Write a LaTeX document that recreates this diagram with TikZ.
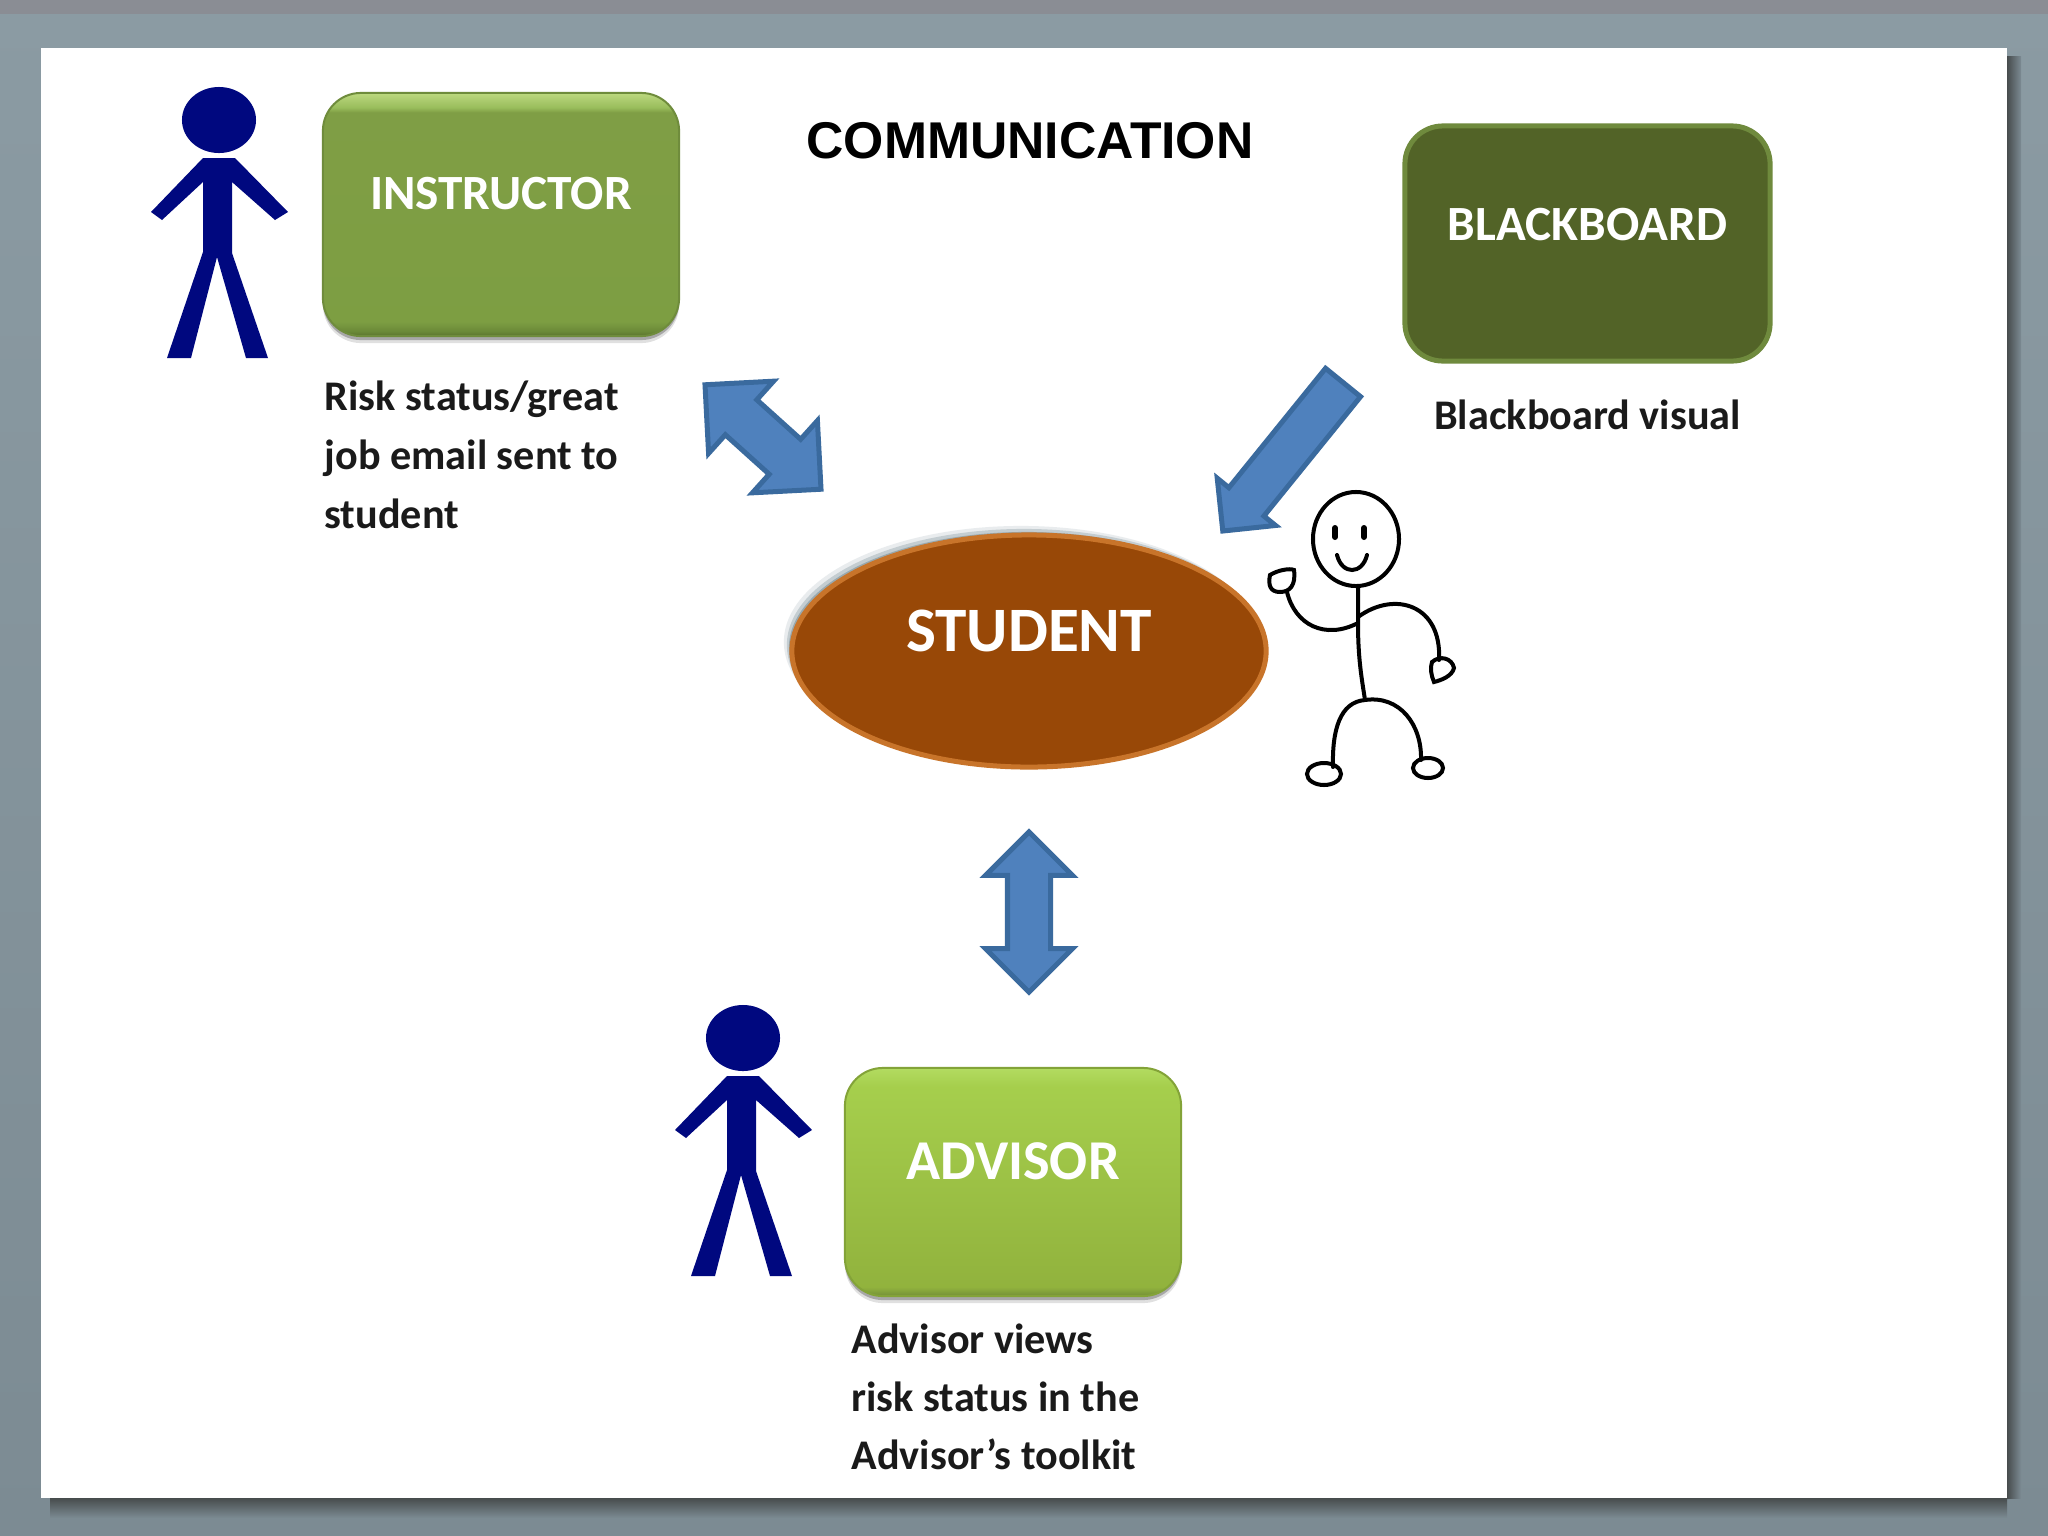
\documentclass[tikz,border=0pt]{standalone}
\usepackage{fontspec}
\setmainfont{Carlito}
\newfontfamily\titlefont{Liberation Sans}
\usetikzlibrary{positioning, shapes.geometric, shapes.arrows, shadows}

\definecolor{slidetop}{HTML}{8B9BA3}
\definecolor{slidebottom}{HTML}{7C8B93}
\definecolor{slideband}{HTML}{8A8D94}
\definecolor{slideedge}{HTML}{474C4D}
\definecolor{personblue}{HTML}{00087F}
\definecolor{arrowfill}{HTML}{4F81BD}
\definecolor{arrowline}{HTML}{3A6A9E}
\definecolor{textdark}{HTML}{1A1A1A}
\definecolor{studentfill}{HTML}{984807}
\definecolor{studentline}{HTML}{C8742A}
\definecolor{studentglow}{HTML}{70868F}
\definecolor{instructorline}{HTML}{6F8C3C}
\definecolor{blackboardfill}{HTML}{526327}
\definecolor{blackboardline}{HTML}{6F8A3D}
\definecolor{advisorline}{HTML}{83A338}

\pgfdeclareverticalshading{instructorshade}{100bp}{rgb(0bp)=(0.35,0.45,0.18); rgb(25bp)=(0.35,0.45,0.18); rgb(26bp)=(0.42,0.54,0.22); rgb(28bp)=(0.49,0.62,0.26); rgb(71bp)=(0.50,0.62,0.27); rgb(72bp)=(0.60,0.74,0.36); rgb(75bp)=(0.74,0.85,0.50); rgb(100bp)=(0.74,0.85,0.50)}
\pgfdeclareverticalshading{advisorshade}{100bp}{rgb(0bp)=(0.45,0.56,0.22); rgb(25bp)=(0.45,0.56,0.22); rgb(27bp)=(0.57,0.70,0.24); rgb(71bp)=(0.65,0.81,0.30); rgb(75bp)=(0.70,0.86,0.38); rgb(100bp)=(0.70,0.86,0.38)}

\begin{document}
\begin{tikzpicture}[x=0.01cm, y=-0.01cm,
	box/.style={rectangle, rounded corners=0.38cm, inner sep=0pt, text=white, font=\bfseries\fontsize{14}{16}\selectfont},
	softshadow/.style={drop shadow={shadow xshift=0cm, shadow yshift=-0.07cm, opacity=0.12, fill=black}, drop shadow={shadow xshift=0cm, shadow yshift=-0.04cm, opacity=0.25, fill=black}},
	caption/.style={anchor=north west, inner sep=0pt, align=left, text=textdark, font=\bfseries\fontsize{12}{16.8}\selectfont},
	blockarrow/.style={draw=arrowline, fill=arrowfill, line width=0.05cm, inner sep=0pt, minimum width=0pt},
	person/.pic={
		\fill[personblue] (0,1) ellipse [x radius=0.37cm, y radius=0.33cm];
		\fill[personblue] (-16,39) -- (16,39) -- (69,93) -- (56,101) -- (13,63) -- (13,134) -- (49,239) -- (27,239) -- (-2,138) -- (-28,239) -- (-52,239) -- (-16,133) -- (-16,63) -- (-57,101) -- (-68,93) -- cycle;
	},
	stickline/.style={draw=black, line width=0.04cm, line cap=round}]

	\useasboundingbox (0,0) rectangle (2048,1536);
	\fill[top color=slidetop, bottom color=slidebottom] (0,0) rectangle (2048,1536);
	\fill[slideband] (0,0) rectangle (2048,14);

	% soft edge on the right and below the white page
	\fill[left color=slideedge, right color=slidebottom] (2007,56) rectangle (2021,1498);
	\fill[top color=slideedge, bottom color=slidebottom] (50,1498) rectangle (2007,1518);
	\fill[white] (41,48) rectangle (2007,1498);

	\node (title) at (1030,141) [text=black, font=\titlefont\bfseries\fontsize{14.7}{18}\selectfont] {COMMUNICATION};

	\node[box, softshadow, shading=instructorshade, draw=instructorline, line width=0.02cm, minimum width=3.56cm, text height=1.16cm, text depth=1.27cm] (instructor) at (501,214.5) {INSTRUCTOR};
	\node[box, fill=blackboardfill, draw=blackboardline, line width=0.05cm, minimum width=3.65cm, text height=1.14cm, text depth=1.21cm] (blackboard) at (1587.5,243.5) {BLACKBOARD};
	\node[box, softshadow, shading=advisorshade, draw=advisorline, line width=0.02cm, minimum width=3.36cm, text height=1.11cm, text depth=1.17cm, font=\bfseries\fontsize{16}{18}\selectfont] (advisor) at (1013,1182) {ADVISOR};
	\node[ellipse, draw=studentline, line width=0.05cm, fill=studentfill, minimum width=4.74cm, minimum height=2.32cm, inner sep=0pt, text=white, text height=0.5cm, text depth=0.5cm, font=\bfseries\fontsize{18}{20}\selectfont,
		drop shadow={shadow xshift=-0.08cm, shadow yshift=0.09cm, opacity=0.15, fill=studentglow},
		drop shadow={shadow xshift=-0.05cm, shadow yshift=0.06cm, opacity=0.3, fill=studentglow},
		drop shadow={shadow xshift=-0.03cm, shadow yshift=0.03cm, opacity=0.5, fill=studentglow}] (student) at (1029,651) {STUDENT};

	\node[caption, below=0.43cm of instructor.south west, anchor=north west, xshift=0.02cm] (instructortext) {Risk status/great\\job email sent to\\student};
	\node[caption, below=0.36cm of blackboard.south, anchor=north] (blackboardtext) {Blackboard visual};
	\node[caption, below=0.26cm of advisor.south west, anchor=north west, xshift=0.07cm, font=\bfseries\fontsize{12}{16.5}\selectfont] (advisortext) {Advisor views\\risk status in the\\Advisor's toolkit};

	% people next to the boxes
	\pic (instructorperson) at (219,119) {person};
	\pic (advisorperson) at (743,1037) {person};

	% block arrows
	\node[blockarrow, double arrow, double arrow tip angle=90, double arrow head extend=0.25cm, minimum height=1.56cm, text height=0.42cm, rotate=-42] (instructorarrow) at (763,437) {};
	\node[blockarrow, single arrow, single arrow tip angle=90, single arrow head extend=0.15cm, minimum height=1.91cm, text height=0.4cm, rotate=231] (blackboardarrow) at (1290,448) {};
	\node[blockarrow, double arrow, double arrow tip angle=90, double arrow head extend=0.22cm, minimum height=1.6cm, text height=0.38cm, rotate=90] (advisorarrow) at (1029,912) {};

	% stick figure beside the student
	\draw[stickline] (1356,539) ellipse [x radius=0.43cm, y radius=0.47cm];
	\draw[stickline, line width=0.06cm] (1335,528) -- (1335,537);
	\draw[stickline, line width=0.06cm] (1364,528) -- (1364,537);
	\draw[stickline] (1337,555) .. controls (1342,575) and (1362,575) .. (1367,555);
	\draw[stickline] (1358,587) -- (1358,623) .. controls (1358,660) and (1362,680) .. (1365,700);
	\draw[stickline] (1358,623) .. controls (1325,640) and (1295,625) .. (1287,592);
	\draw[stickline] (1358,617) .. controls (1395,590) and (1442,605) .. (1439,660);
	\draw[stickline] (1365,700) .. controls (1340,702) and (1332,730) .. (1333,767);
	\draw[stickline] (1365,700) .. controls (1400,695) and (1422,725) .. (1421,760);
	\draw[stickline] (1270,575) .. controls (1278,570) and (1290,568) .. (1294,570) .. controls (1296,585) and (1290,592) .. (1280,592) .. controls (1270,592) and (1268,585) .. (1270,575) -- cycle;
	\draw[stickline] (1432,662) .. controls (1440,655) and (1452,658) .. (1454,668) .. controls (1452,676) and (1442,680) .. (1434,682) .. controls (1431,675) and (1430,668) .. (1432,662) -- cycle;
	\draw[stickline] (1324,774) ellipse [x radius=0.17cm, y radius=0.11cm];
	\draw[stickline] (1428,768) ellipse [x radius=0.15cm, y radius=0.1cm];
\end{tikzpicture}
\end{document}
